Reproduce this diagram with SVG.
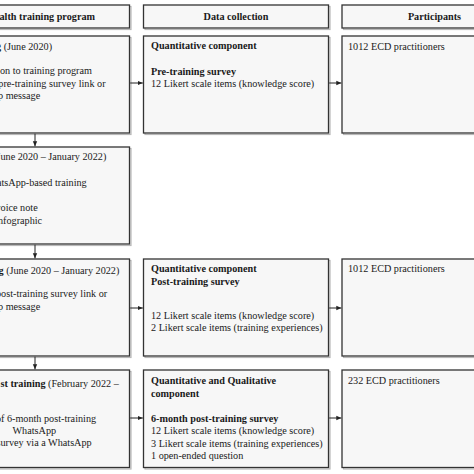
<svg xmlns="http://www.w3.org/2000/svg" width="474" height="474" viewBox="0 0 474 474">
<defs>
<marker id="ah" markerWidth="6" markerHeight="6" refX="5" refY="3" orient="auto" markerUnits="userSpaceOnUse">
<path d="M0,0.8 L5,3 L0,5.2 Z" fill="#222"/>
</marker>
</defs>
<style>
.box{fill:#f7f7f7;stroke:#333;stroke-width:1.3}
.sh{fill:none;stroke:#b8b8b8;stroke-width:1.2}
text{font-family:"Liberation Serif","Times New Roman",serif;font-size:10.2px;fill:#1a1a1a}
.b{font-weight:bold}
.c{text-anchor:middle}
.con{stroke:#222;stroke-width:1;fill:none;marker-end:url(#ah)}
</style>
<rect width="474" height="474" fill="#ffffff"/>

<g id="hdr-program">
<rect class="sh" x="-58.5" y="6.5" width="189.5" height="23"/>
<rect class="box" x="-60" y="5" width="189.5" height="23"/>
<text class="b" x="-5" y="20">ealth training program</text>
</g>
<g id="hdr-data">
<rect class="sh" x="145" y="6.5" width="185" height="23"/>
<rect class="box" x="143.5" y="5" width="185" height="23"/>
<text class="b c" x="236" y="20">Data collection</text>
</g>
<g id="hdr-participants">
<rect class="sh" x="343.5" y="6.5" width="185" height="23"/>
<rect class="box" x="342" y="5" width="185" height="23"/>
<text class="b c" x="434.5" y="20">Participants</text>
</g>

<g id="step1">
<rect class="sh" x="-58.5" y="37.5" width="189.5" height="97"/>
<rect class="box" x="-60" y="36" width="189.5" height="97"/>
<text x="-4" y="50"><tspan class="b">g</tspan> (June 2020)</text>
<text x="0" y="74">on to training program</text>
<text x="-1.7" y="86.5">pre-training survey link or</text>
<text x="-2" y="99">p message</text>
</g>
<g id="data1">
<rect class="sh" x="145" y="37.5" width="185" height="97"/>
<rect class="box" x="143.5" y="36" width="185" height="97"/>
<text class="b" x="151" y="49">Quantitative component</text>
<text class="b" x="151" y="75">Pre-training survey</text>
<text x="151" y="87">12 Likert scale items (knowledge score)</text>
</g>
<g id="part1">
<rect class="sh" x="343.5" y="37.5" width="185" height="97"/>
<rect class="box" x="342" y="36" width="185" height="97"/>
<text x="348" y="50">1012 ECD practitioners</text>
</g>

<g id="step2">
<rect class="sh" x="-58.5" y="148.5" width="189.5" height="97"/>
<rect class="box" x="-60" y="147" width="189.5" height="97"/>
<text x="-3.5" y="160">June 2020 – January 2022)</text>
<text x="-3" y="186">atsApp-based training</text>
<text x="-4.5" y="211">voice note</text>
<text x="-2" y="223.5">nfographic</text>
</g>

<g id="step3">
<rect class="sh" x="-58.5" y="260.5" width="189.5" height="97"/>
<rect class="box" x="-60" y="259" width="189.5" height="97"/>
<text x="-1.5" y="273.5"><tspan class="b">g</tspan> (June 2020 – January 2022)</text>
<text x="-4" y="297">post-training survey link or</text>
<text x="-2" y="309.5">p message</text>
</g>
<g id="data2">
<rect class="sh" x="145" y="260.5" width="185" height="97"/>
<rect class="box" x="143.5" y="259" width="185" height="97"/>
<text class="b" x="151" y="271.5">Quantitative component</text>
<text class="b" x="151" y="285">Post-training survey</text>
<text x="151" y="319">12 Likert scale items (knowledge score)</text>
<text x="151" y="331">2 Likert scale items (training experiences)</text>
</g>
<g id="part2">
<rect class="sh" x="343.5" y="260.5" width="185" height="97"/>
<rect class="box" x="342" y="259" width="185" height="97"/>
<text x="348" y="272">1012 ECD practitioners</text>
</g>

<g id="step4">
<rect class="sh" x="-58.5" y="371.5" width="189.5" height="97.5"/>
<rect class="box" x="-60" y="370" width="189.5" height="97.5"/>
<text x="0.5" y="386.5"><tspan class="b">st training</tspan> (February 2022 –</text>
<text x="-4.1" y="421.5">of 6-month post-training</text>
<text x="12.5" y="434">WhatsApp</text>
<text x="-3.5" y="446">survey via a WhatsApp</text>
</g>
<g id="data3">
<rect class="sh" x="145" y="371.5" width="185" height="97.5"/>
<rect class="box" x="143.5" y="370" width="185" height="97.5"/>
<text class="b" x="151" y="384">Quantitative and Qualitative</text>
<text class="b" x="151" y="396.5">component</text>
<text class="b" x="151" y="421.5">6-month post-training survey</text>
<text x="151" y="434">12 Likert scale items (knowledge score)</text>
<text x="151" y="446.5">3 Likert scale items (training experiences)</text>
<text x="151" y="459">1 open-ended question</text>
</g>
<g id="part3">
<rect class="sh" x="343.5" y="371.5" width="185" height="97.5"/>
<rect class="box" x="342" y="370" width="185" height="97.5"/>
<text x="348" y="383.5">232 ECD practitioners</text>
</g>

<g id="connectors">
<line class="con" x1="35" y1="133.7" x2="35" y2="146.3"/>
<line class="con" x1="35" y1="244.7" x2="35" y2="258.3"/>
<line class="con" x1="35" y1="356.7" x2="35" y2="369.3"/>
<line class="con" x1="130.2" y1="83" x2="142.8" y2="83"/>
<line class="con" x1="329.2" y1="83" x2="341.3" y2="83"/>
<line class="con" x1="130.2" y1="308" x2="142.8" y2="308"/>
<line class="con" x1="329.2" y1="308" x2="341.3" y2="308"/>
<line class="con" x1="130.2" y1="418" x2="142.8" y2="418"/>
<line class="con" x1="329.2" y1="418" x2="341.3" y2="418"/>
</g>
</svg>
